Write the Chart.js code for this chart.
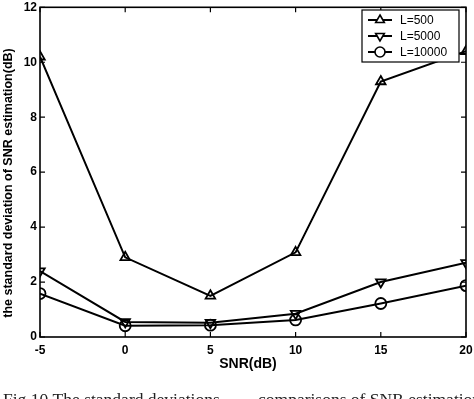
<!DOCTYPE html>
<html><head><meta charset="utf-8">
<script src="https://cdn.jsdelivr.net/npm/chart.js@4"></script>
<style>html,body{margin:0;padding:0;background:#fff;}canvas{display:block;}</style>
</head><body>
<canvas id="c" width="474" height="399"></canvas>
<script>
const snr = [-5, 0, 5, 10, 15, 20];
const l500 = [10.2, 2.9, 1.5, 3.08, 9.3, 10.4];
const l5000 = [2.4, 0.55, 0.52, 0.85, 2.0, 2.7];
const l10000 = [1.58, 0.41, 0.43, 0.62, 1.22, 1.87];
const seriesNames = ['L=500', 'L=5000', 'L=10000'];
const xTicks = [-5, 0, 5, 10, 15, 20];
const yTicks = [0, 2, 4, 6, 8, 10, 12];
const xTitle = 'SNR(dB)';
const yTitle = 'the standard deviation of SNR estimation(dB)';
const caption1 = 'Fig.10 The standard deviations';
const caption2 = 'comparisons of SNR estimations';

function pts(vals){ return snr.map((x,i)=>({x:x, y:vals[i]})); }
const styles = [
  {pointStyle:'triangle', rot:0},
  {pointStyle:'triangle', rot:180},
  {pointStyle:'circle', rot:0}
];
const datasets = [l500, l5000, l10000].map((v,i)=>({
  label: seriesNames[i], data: pts(v),
  borderColor:'#000', backgroundColor:'#fff', borderWidth:2,
  pointStyle: styles[i].pointStyle, pointRotation: styles[i].rot,
  pointRadius: 5.5, pointBorderWidth: 1.8, pointBorderColor:'#000', pointBackgroundColor:'rgba(255,255,255,0)',
  tension:0
}));

const frame = {
  id:'frame',
  afterDraw(chart){
    const ctx = chart.ctx, a = chart.chartArea;
    const xs = chart.scales.x, ys = chart.scales.y;
    ctx.save();
    ctx.strokeStyle='#000'; ctx.lineWidth=1.6;
    ctx.strokeRect(a.left, a.top, a.right-a.left, a.bottom-a.top);
    ctx.lineWidth=1.2;
    const tl=5;
    xTicks.forEach(v=>{const p=xs.getPixelForValue(v);
      ctx.beginPath(); ctx.moveTo(p,a.bottom); ctx.lineTo(p,a.bottom-tl);
      ctx.moveTo(p,a.top); ctx.lineTo(p,a.top+tl); ctx.stroke();});
    yTicks.forEach(v=>{const p=ys.getPixelForValue(v);
      ctx.beginPath(); ctx.moveTo(a.left,p); ctx.lineTo(a.left+tl,p);
      ctx.moveTo(a.right,p); ctx.lineTo(a.right-tl,p); ctx.stroke();});
    // axis titles
    ctx.fillStyle='#000';
    ctx.font='bold 14px "Liberation Sans", Arial, sans-serif';
    ctx.textAlign='center'; ctx.textBaseline='middle';
    ctx.fillText(xTitle, 248, 364);
    ctx.save();
    ctx.translate(9, 183); ctx.rotate(-Math.PI/2);
    ctx.font='bold 12.5px "Liberation Sans", Arial, sans-serif';
    ctx.fillText(yTitle, 0, 0);
    ctx.restore();
    // legend
    const lx=362, ly=10, lw=97, lh=52;
    ctx.fillStyle='#fff'; ctx.fillRect(lx,ly,lw,lh);
    ctx.strokeStyle='#000'; ctx.lineWidth=1.2; ctx.strokeRect(lx,ly,lw,lh);
    const rows=[20,36,52];
    chart.data.datasets.forEach((d,i)=>{
      const y=rows[i];
      ctx.strokeStyle='#000'; ctx.lineWidth=2;
      ctx.beginPath(); ctx.moveTo(368,y); ctx.lineTo(392,y); ctx.stroke();
      ctx.lineWidth=1.6; ctx.fillStyle='#fff';
      Chart.helpers.drawPoint(ctx,{pointStyle:d.pointStyle, rotation:d.pointRotation, radius:5, borderWidth:1.6}, 380, y);
      ctx.fillStyle='#000';
      ctx.font='12px "Liberation Sans", Arial, sans-serif';
      ctx.textAlign='left'; ctx.textBaseline='middle';
      ctx.fillText(d.label, 400, y+1);
    });
    // caption (cut off by the bottom edge, as in the reference)
    ctx.font='17.5px "Liberation Serif", "Times New Roman", serif';
    ctx.textAlign='left'; ctx.textBaseline='alphabetic';
    ctx.fillStyle='#222';
    ctx.fillText(caption1, 3, 405);
    ctx.fillText(caption2, 258, 405);
    ctx.restore();
  }
};

new Chart(document.getElementById('c'), {
  type:'line',
  data:{datasets},
  options:{
    responsive:false, animation:false,
    layout:{padding:{left:0,right:8,top:4,bottom:0}},
    plugins:{legend:{display:false}, tooltip:{enabled:false}},
    scales:{
      x:{type:'linear', min:-5, max:20,
        afterBuildTicks(s){ s.ticks = xTicks.map(v=>({value:v})); },
        afterFit(s){ s.height=62; s.paddingLeft=0; s.paddingRight=0; },
        grid:{display:false, drawTicks:false}, border:{display:false},
        ticks:{padding:6, color:'#000', maxRotation:0, font:{family:'"Liberation Sans", Arial, sans-serif', size:12, weight:'bold'}}},
      y:{type:'linear', min:0, max:12,
        afterBuildTicks(s){ s.ticks = yTicks.map(v=>({value:v})); },
        afterFit(s){ s.width=40; s.paddingTop=0; s.paddingBottom=0; },
        grid:{display:false, drawTicks:false}, border:{display:false},
        ticks:{padding:3, color:'#000', font:{family:'"Liberation Sans", Arial, sans-serif', size:12, weight:'bold'}}}
    }
  },
  plugins:[frame]
});
</script>
</body></html>
